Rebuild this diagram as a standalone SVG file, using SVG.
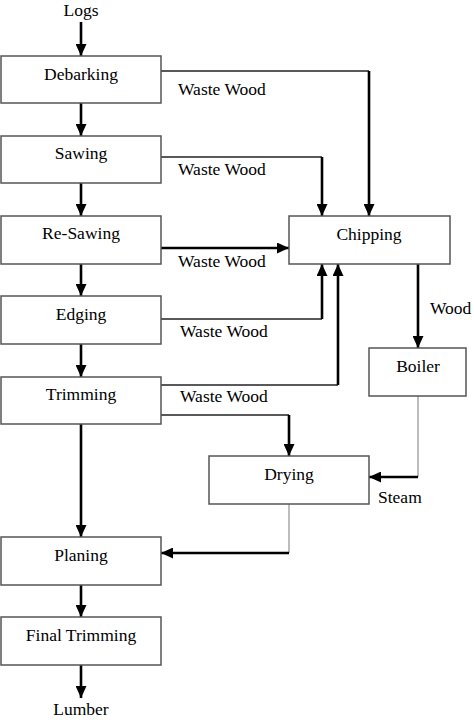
<svg xmlns="http://www.w3.org/2000/svg" width="474" height="720" viewBox="0 0 474 720">
<defs>
<style>
.box{fill:#fff;stroke:#555;stroke-width:1.5}
.t{font-family:"Liberation Serif","Times New Roman",serif;font-size:17.5px;fill:#000}
.c{text-anchor:middle}
.k{fill:none;stroke:#000;stroke-width:2.6}
.h{fill:none;stroke:#222;stroke-width:1.6}
.g{fill:none;stroke:#999;stroke-width:1.3}
</style>
<marker id="ah" markerUnits="userSpaceOnUse" markerWidth="12" markerHeight="11" refX="12" refY="5.5" orient="auto" viewBox="0 0 12 11">
<path d="M0,0 L12,5.5 L0,11 z" fill="#000"/>
</marker>
</defs>
<rect width="474" height="720" fill="#fff"/>
<g id="connectors">
<path class="k" d="M81,22 V56" marker-end="url(#ah)"/>
<path class="k" d="M81,103 V136" marker-end="url(#ah)"/>
<path class="k" d="M81,183 V216" marker-end="url(#ah)"/>
<path class="k" d="M81,264 V296" marker-end="url(#ah)"/>
<path class="k" d="M81,344 V377" marker-end="url(#ah)"/>
<path class="k" d="M81,424 V537" marker-end="url(#ah)"/>
<path class="k" d="M81,585 V617" marker-end="url(#ah)"/>
<path class="k" d="M81,665 V698" marker-end="url(#ah)"/>
<path class="h" d="M161,71 H369"/>
<path class="k" d="M369,71 V216" marker-end="url(#ah)"/>
<path class="h" d="M161,157 H322"/>
<path class="k" d="M322,157 V216" marker-end="url(#ah)"/>
<path class="k" d="M161,248 H289" marker-end="url(#ah)"/>
<path class="h" d="M161,319 H322"/>
<path class="k" d="M322,319 V264" marker-end="url(#ah)"/>
<path class="h" d="M161,385 H338"/>
<path class="k" d="M338,385 V264" marker-end="url(#ah)"/>
<path class="h" d="M161,415 H289"/>
<path class="k" d="M289,415 V456" marker-end="url(#ah)"/>
<path class="k" d="M418,264 V348" marker-end="url(#ah)"/>
<path class="g" d="M418,396 V477"/>
<path class="k" d="M418,477 H369" marker-end="url(#ah)"/>
<path class="g" d="M289,504 V553"/>
<path class="k" d="M289,553 H161" marker-end="url(#ah)"/>
</g>
<g id="logs"><text class="t c" x="81" y="16">Logs</text></g>
<g id="debarking"><rect class="box" x="1" y="56" width="160" height="47"/><text class="t c" x="81" y="80">Debarking</text></g>
<g id="sawing"><rect class="box" x="1" y="136" width="160" height="47"/><text class="t c" x="81" y="159">Sawing</text></g>
<g id="resawing"><rect class="box" x="1" y="216" width="160" height="48"/><text class="t c" x="81" y="239">Re-Sawing</text></g>
<g id="edging"><rect class="box" x="1" y="296" width="160" height="48"/><text class="t c" x="81" y="320">Edging</text></g>
<g id="trimming"><rect class="box" x="1" y="377" width="160" height="47"/><text class="t c" x="81" y="400">Trimming</text></g>
<g id="planing"><rect class="box" x="1" y="537" width="160" height="48"/><text class="t c" x="81" y="561">Planing</text></g>
<g id="finaltrimming"><rect class="box" x="1" y="617" width="160" height="48"/><text class="t c" x="81" y="641">Final Trimming</text></g>
<g id="lumber"><text class="t c" x="81" y="715">Lumber</text></g>
<g id="chipping"><rect class="box" x="289" y="216" width="161" height="48"/><text class="t c" x="369" y="240">Chipping</text></g>
<g id="boiler"><rect class="box" x="369" y="348" width="97" height="48"/><text class="t c" x="418" y="372">Boiler</text></g>
<g id="drying"><rect class="box" x="209" y="456" width="160" height="48"/><text class="t c" x="289" y="480">Drying</text></g>
<g id="labels">
<text class="t" x="178" y="95">Waste Wood</text>
<text class="t" x="178" y="175">Waste Wood</text>
<text class="t" x="178" y="267">Waste Wood</text>
<text class="t" x="180" y="337">Waste Wood</text>
<text class="t" x="180" y="402">Waste Wood</text>
<text class="t" x="430" y="314">Wood</text>
<text class="t" x="378" y="503">Steam</text>
</g>
</svg>
